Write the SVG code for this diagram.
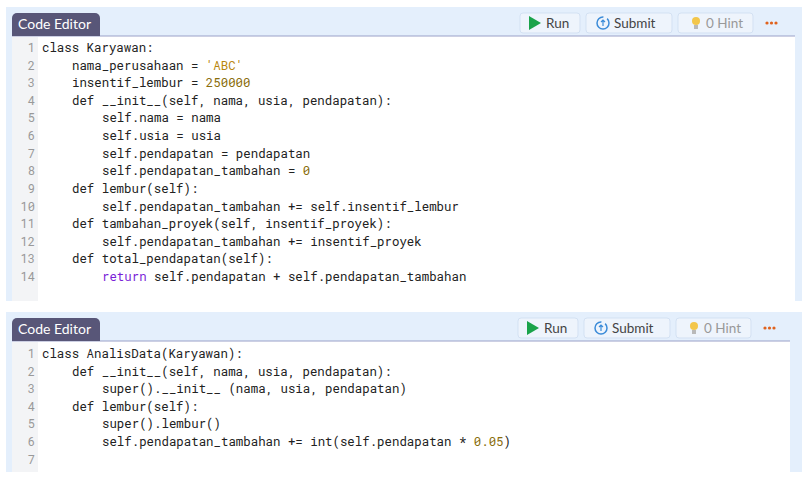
<svg xmlns="http://www.w3.org/2000/svg" width="809" height="478" viewBox="0 0 809 478">
<style>
.code{font-family:"Roboto Mono","DejaVu Sans Mono",monospace;font-size:12.4px;fill:#222}
.ln{font-family:"Roboto Mono","DejaVu Sans Mono",monospace;font-size:12px;fill:#999;text-anchor:end}
.tab{font-family:"Lato","Open Sans",sans-serif;font-size:14px;fill:#fff}
.btn{fill:#eef4fc;stroke:#d3e1f3;stroke-width:1}
.bt{font-family:"Lato","Open Sans",sans-serif;font-size:13.5px;fill:#444}
.kw{fill:#7a1fd8}.str{fill:#b8860b}.num{fill:#8a6d0b}
</style>
<rect width="809" height="478" fill="#fff"/>
<g id="editor1">
<rect x="6" y="7" width="796" height="294" fill="#e4effc"/>
<rect x="12" y="36" width="783" height="265" fill="#fff"/>
<line x1="12" y1="36" x2="795" y2="36" stroke="#9aa0c8"/>
<rect x="12" y="37" width="26" height="264" fill="#f3f4f6"/>
<path d="M12 36 V18 a5 5 0 0 1 5 -5 H95 a5 5 0 0 1 5 5 V36 Z" fill="#585678"/>
<text class="tab" x="18" y="29">Code Editor</text>
<rect class="btn" x="520" y="13" width="60" height="20" rx="3"/>
<path d="M529 16 L541 23 L529 30 Z" fill="#1aa34a"/>
<text class="bt" x="546" y="28">Run</text>
<rect class="btn" x="586" y="13" width="86" height="20" rx="3"/>
<circle cx="603" cy="23" r="6" fill="none" stroke="#3b8bd8" stroke-width="1.5" stroke-dasharray="28 4"/>
<path d="M603 26 V20 M601 22 L603 20 L605 22" stroke="#3b8bd8" fill="none" stroke-width="1.2"/>
<text class="bt" x="614" y="28">Submit</text>
<rect class="btn" x="678" y="13" width="75" height="20" rx="3"/>
<circle cx="696" cy="21" r="4" fill="#f3c64a"/><rect x="694" y="25" width="4" height="4" fill="#b9b9b9"/>
<text class="bt" x="706" y="28" style="fill:#999">0 Hint</text>
<g fill="#e0621d"><circle cx="767" cy="23" r="1.6"/><circle cx="771.5" cy="23" r="1.6"/><circle cx="776" cy="23" r="1.6"/></g>
<g class="ln">
<text x="35" y="52">1</text><text x="35" y="70">2</text><text x="35" y="87">3</text><text x="35" y="105">4</text><text x="35" y="122">5</text><text x="35" y="140">6</text><text x="35" y="158">7</text><text x="35" y="175">8</text><text x="35" y="193">9</text><text x="35" y="211">10</text><text x="35" y="228">11</text><text x="35" y="246">12</text><text x="35" y="263">13</text><text x="35" y="281">14</text>
</g>
<g class="code">
<text x="42" y="52">class Karyawan:</text>
<text x="72" y="70">nama_perusahaan = <tspan class="str">'ABC'</tspan></text>
<text x="72" y="87">insentif_lembur = <tspan class="num">250000</tspan></text>
<text x="72" y="105">def __init__(self, nama, usia, pendapatan):</text>
<text x="102" y="122">self.nama = nama</text>
<text x="102" y="140">self.usia = usia</text>
<text x="102" y="158">self.pendapatan = pendapatan</text>
<text x="102" y="175">self.pendapatan_tambahan = <tspan class="num">0</tspan></text>
<text x="72" y="193">def lembur(self):</text>
<text x="102" y="211">self.pendapatan_tambahan += self.insentif_lembur</text>
<text x="72" y="228">def tambahan_proyek(self, insentif_proyek):</text>
<text x="102" y="246">self.pendapatan_tambahan += insentif_proyek</text>
<text x="72" y="263">def total_pendapatan(self):</text>
<text x="102" y="281"><tspan class="kw">return</tspan> self.pendapatan + self.pendapatan_tambahan</text>
</g>
</g>
<g id="editor2">
<rect x="6" y="312" width="796" height="160" fill="#e4effc"/>
<rect x="12" y="341" width="778" height="131" fill="#fff"/>
<line x1="12" y1="341" x2="790" y2="341" stroke="#9aa0c8"/>
<rect x="12" y="342" width="26" height="130" fill="#f3f4f6"/>
<path d="M12 341 V323 a5 5 0 0 1 5 -5 H95 a5 5 0 0 1 5 5 V341 Z" fill="#585678"/>
<text class="tab" x="18" y="334">Code Editor</text>
<rect class="btn" x="518" y="318" width="60" height="20" rx="3"/>
<path d="M527 321 L539 328 L527 335 Z" fill="#1aa34a"/>
<text class="bt" x="544" y="333">Run</text>
<rect class="btn" x="584" y="318" width="86" height="20" rx="3"/>
<circle cx="601" cy="328" r="6" fill="none" stroke="#3b8bd8" stroke-width="1.5" stroke-dasharray="28 4"/>
<path d="M601 331 V325 M599 327 L601 325 L603 327" stroke="#3b8bd8" fill="none" stroke-width="1.2"/>
<text class="bt" x="612" y="333">Submit</text>
<rect class="btn" x="676" y="318" width="75" height="20" rx="3"/>
<circle cx="694" cy="326" r="4" fill="#f3c64a"/><rect x="692" y="330" width="4" height="4" fill="#b9b9b9"/>
<text class="bt" x="704" y="333" style="fill:#999">0 Hint</text>
<g fill="#e0621d"><circle cx="765" cy="328" r="1.6"/><circle cx="769.5" cy="328" r="1.6"/><circle cx="774" cy="328" r="1.6"/></g>
<g class="ln">
<text x="35" y="358">1</text><text x="35" y="376">2</text><text x="35" y="393">3</text><text x="35" y="411">4</text><text x="35" y="428">5</text><text x="35" y="446">6</text><text x="35" y="464">7</text>
</g>
<g class="code">
<text x="42" y="358">class AnalisData(Karyawan):</text>
<text x="72" y="376">def __init__(self, nama, usia, pendapatan):</text>
<text x="102" y="393">super().__init__ (nama, usia, pendapatan)</text>
<text x="72" y="411">def lembur(self):</text>
<text x="102" y="428">super().lembur()</text>
<text x="102" y="446">self.pendapatan_tambahan += int(self.pendapatan * <tspan class="num">0.05</tspan>)</text>
</g>
</g>
</svg>
